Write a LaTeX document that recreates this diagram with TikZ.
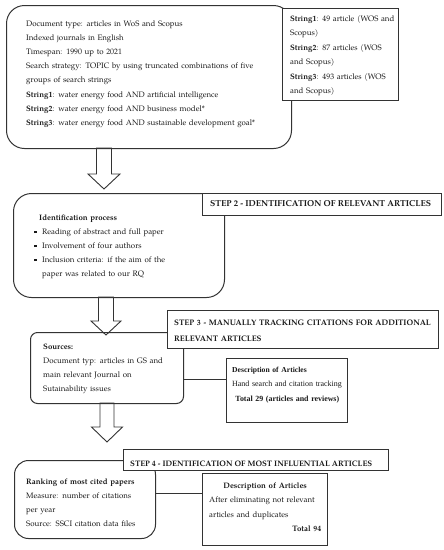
\documentclass[tikz,border=0pt]{standalone}
\usepackage{fontspec}
\setmainfont{TeX Gyre Pagella}
\newfontfamily\tms{Liberation Serif}
\usetikzlibrary{calc}
\newlength\tmpw
\newcommand{\calcfs}[3]{\settowidth\tmpw{\fontsize{10}{12}\selectfont #3}\pgfmathsetmacro#1{10*#2/\tmpw}\global\let#1#1}
\newcommand{\jl}[1]{\makebox[\linewidth][s]{#1}}
\newcommand{\bul}{\makebox[8pt][l]{\raisebox{1.3pt}{\rule{2.3pt}{2.3pt}}}}
\newcommand{\fatarrow}[5]{\draw[arr] ($(#1)+(-#3,0)$) -- ($(#1)+(#3,0)$) -- ($(#2)+(#3,-#5)$) -- ($(#2)+(#4,-#5)$) -- (#2) -- ($(#2)+(-#4,-#5)$) -- ($(#2)+(-#3,-#5)$) -- cycle;}
\tikzset{
  rbox/.style={draw=black!80, line width=1pt, rounded corners=#1, anchor=north west, inner sep=0pt},
  sqbox/.style={draw=black!80, line width=0.9pt, fill=white, anchor=north west, inner sep=0pt},
  txt/.style={anchor=base west, inner sep=0pt, align=left, text=black!90, font=\fontsize{\fsM}{14.1}\selectfont},
  arr/.style={draw=black!80, line width=0.9pt, fill=white, line join=miter},
  conn/.style={draw=black!80, line width=1pt}
}
\begin{document}
\calcfs{\fsM}{152}{Document type: articles in WoS and Scopus}%
\calcfs{\fsA}{221}{\bfseries STEP 2 - IDENTIFICATION OF RELEVANT ARTICLES}%
\calcfs{\fsB}{252}{\bfseries STEP 3 - MANUALLY TRACKING CITATIONS FOR ADDITIONAL}%
\calcfs{\fsC}{242}{\bfseries STEP 4 - IDENTIFICATION OF MOST INFLUENTIAL ARTICLES}%
\calcfs{\fsT}{107}{\tms Hand search and citation tracking}%
\calcfs{\fsTb}{73}{\tms\bfseries Description of Articles}%
\calcfs{\fsTt}{101}{\tms\bfseries Total 29 (articles and reviews)}%
\begin{tikzpicture}[x=1pt,y=-1pt]
\useasboundingbox (0,0) rectangle (444,550);
% arrows
\coordinate (a1s) at (104,148); \coordinate (a1e) at (104,189);
\coordinate (a2s) at (106,297); \coordinate (a2e) at (106,335);
\coordinate (a3s) at (107,403); \coordinate (a3e) at (107,442);
\fatarrow{a1s}{a1e}{7.5}{16}{15}
\fatarrow{a2s}{a2e}{7.5}{15}{14}
\fatarrow{a3s}{a3e}{7}{15.5}{15}
% rounded boxes
\node[rbox=18, minimum width=285, minimum height=143] (b1) at (6,5) {};
\node[rbox=18, minimum width=211, minimum height=104] (b2) at (13,193) {};
\node[rbox=7, minimum width=153, minimum height=71] (b3) at (30,332) {};
\node[rbox=14, minimum width=141, minimum height=78] (b4) at (14,460) {};
% square boxes
\node[sqbox, minimum width=116, minimum height=92] (sb) at (282,8) {};
\node[sqbox, minimum width=239, minimum height=22] (s2) at (202,193) {};
\node[sqbox, minimum width=271, minimum height=38] (s3) at (167,310) {};
\node[sqbox, minimum width=121, minimum height=64] (d3) at (226,358) {};
\node[sqbox, minimum width=265, minimum height=21] (s4) at (123,449) {};
\node[sqbox, minimum width=125, minimum height=72] (d4) at (202,473) {};
% connectors
\coordinate (c3) at (0,379);
\coordinate (c4) at (0,493);
\draw[conn] (b3.east |- c3) -- (d3.west |- c3);
\draw[conn] (b4.east |- c4) -- (d4.west |- c4);
% texts
\node[txt, text width=248] (t1) at (26,26.5) {Document type: articles in WoS and Scopus\\
Indexed journals in English\\
Timespan: 1990 up to 2021\\
\jl{Search strategy: TOPIC by using truncated combinations of five}\\
groups of search strings\\
\textbf{String1}: water energy food AND artificial intelligence\\
\textbf{String2}: water energy food AND business model*\\
\textbf{String3}: water energy food AND sustainable development goal*};
\node[txt, text width=101, font=\fontsize{\fsM}{14.4}\selectfont] (tsb) at (290,21.5) {\jl{\textbf{String1}: 49 article (WOS and}\\
Scopus)\\
\jl{\textbf{String2}: 87 articles (WOS}\\
and Scopus)\\
\jl{\textbf{String3}: 493 articles (WOS}\\
and Scopus)};
\node[txt, font=\fontsize{\fsA}{16.7}\selectfont\bfseries] (ts2) at (210,206.5) {STEP 2 - IDENTIFICATION OF RELEVANT ARTICLES};
\node[txt, text width=185, font=\fontsize{\fsM}{14}\selectfont] (t2) at (34,220.5) {\hspace*{5pt}\textbf{Identification process}\\
\bul Reading of abstract and full paper\\
\bul Involvement of four authors\\
\bul\makebox[171pt][s]{Inclusion criteria: if the aim of the}\\
\hspace*{8pt}paper was related to our RQ};
\node[txt, text width=268, font=\fontsize{\fsB}{16.7}\selectfont\bfseries] (ts3) at (174,325) {STEP 3 - MANUALLY TRACKING CITATIONS FOR ADDITIONAL\\
RELEVANT ARTICLES};
\node[txt, text width=140, font=\fontsize{\fsM}{13.9}\selectfont] (t3) at (43,349.5) {\textbf{Sources:}\\
Document typ: articles in GS and\\
main relevant Journal on\\
Sutainability issues};
\node[txt, text width=107, font=\tms\fontsize{\fsT}{14.3}\selectfont] (td3) at (232,372.5) {{\fontsize{\fsTb}{14.3}\selectfont\textbf{Description of Articles}}\\
\makebox[\linewidth][s]{Hand search and citation tracking}\\
\makebox[\linewidth][r]{\fontsize{\fsTt}{14.3}\selectfont\textbf{Total 29 (articles and reviews)}}};
\node[txt, font=\fontsize{\fsC}{16.7}\selectfont\bfseries] (ts4) at (130,466.5) {STEP 4 - IDENTIFICATION OF MOST INFLUENTIAL ARTICLES};
\node[txt, text width=111, font=\fontsize{\fsM}{14}\selectfont] (t4) at (26,484) {\textbf{Ranking of most cited papers}\\
\jl{Measure: number of citations}\\
per year\\
Source: SSCI citation data files};
\node[txt, text width=112, font=\fontsize{\fsM}{14.5}\selectfont] (td4) at (209,488) {\makebox[\linewidth][c]{\textbf{Description of Articles}}\\
\jl{After eliminating not relevant}\\
articles and duplicates\\
\makebox[\linewidth][r]{\textbf{Total 94}}};
\end{tikzpicture}
\end{document}
